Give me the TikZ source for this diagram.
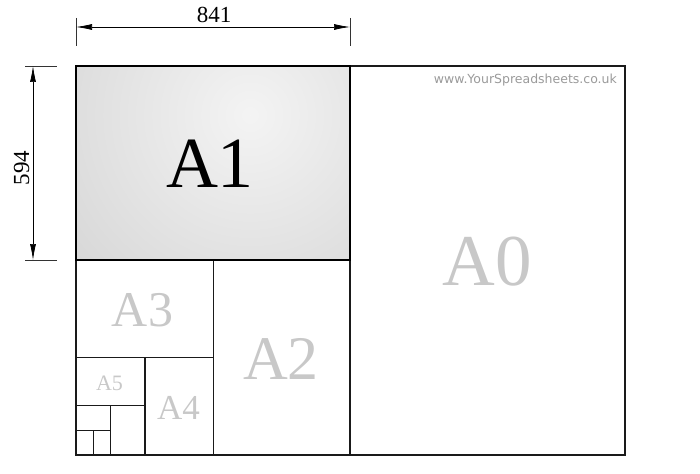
\documentclass[tikz,border=0pt]{standalone}
\usepackage{fontspec}
\setmainfont{Liberation Serif}
\newfontfamily\webfont{DejaVu Sans}
\usetikzlibrary{arrows.meta}
\definecolor{lbl}{HTML}{C8C8C8}
\definecolor{web}{HTML}{9A9A9A}
\definecolor{edge}{HTML}{1A1A1A}
\begin{document}
\begin{tikzpicture}[x=1pt,y=-1pt,
  sheet/.style={draw=edge,line width=1.4pt},
  bigsheet/.style={draw=black,line width=2.4pt},
  dimline/.style={draw=black,line width=0.7pt},
  tick/.style={draw=black!80,line width=0.6pt},
  dimarrow/.style={{Latex[length=16pt,width=6pt]}-{Latex[length=16pt,width=6pt]}},
  sizelbl/.style={text=lbl,inner sep=0pt,anchor=base},
  dimlbl/.style={text=black,inner sep=0pt,font=\fontsize{23}{23}\selectfont}]
\useasboundingbox (0,0) rectangle (700,473);
% corners
\coordinate (TL) at (76,66);
\coordinate (A1BR) at (350,260);
\coordinate (BR) at (625,455);
% shading of A1
\begin{scope}
  \clip (76,66) rectangle (350,260);
  \shade[inner color=gray!9, outer color=gray!34] (250,115) circle (260);
\end{scope}
% sheets
\draw[sheet] (76,66) rectangle (625,455);
\draw[sheet] (76,260) rectangle (350,455);
\draw[sheet] (213.5,260) -- (213.5,455);
\draw[sheet] (76,357.5) -- (213.5,357.5);
\draw[sheet] (145,357.5) -- (145,455);
\draw[sheet] (76,405.5) -- (145,405.5);
\draw[sheet] (110.5,405.5) -- (110.5,455);
\draw[sheet] (76,430.5) -- (110.5,430.5);
\draw[sheet] (93.3,430.5) -- (93.3,455);
\draw[bigsheet] (TL) rectangle (A1BR);
% labels
\node[inner sep=0pt,anchor=base,font=\fontsize{72}{72}\selectfont] (a1) at (210,187) {A1};
\node[sizelbl,font=\fontsize{73}{73}\selectfont] (a0) at (487.5,285) {A0};
\node[sizelbl,font=\fontsize{62}{62}\selectfont] (a2) at (281,379) {A2};
\node[sizelbl,font=\fontsize{50}{50}\selectfont] (a3) at (142.5,326) {A3};
\node[sizelbl,font=\fontsize{35}{35}\selectfont] (a4) at (178.5,419) {A4};
\node[sizelbl,font=\fontsize{22}{22}\selectfont] (a5) at (109.5,390) {A5};
\node[inner sep=0pt,anchor=base east,text=web,font=\webfont\fontsize{12.5}{13}\selectfont] (web) at (617,84) {www.YourSpreadsheets.co.uk};
% horizontal dimension
\coordinate (ht1a) at (76,18); \coordinate (ht1b) at (76,46);
\coordinate (ht2a) at (350,18); \coordinate (ht2b) at (350,46);
\draw[tick] (ht1a) -- (ht1b);
\draw[tick] (ht2a) -- (ht2b);
\coordinate (hl) at (76,27); \coordinate (hr) at (350,27);
\draw[dimline,dimarrow] (hl) -- (hr);
\node[dimlbl,anchor=base] (w) at (214,23) {841};
% vertical dimension
\coordinate (vt1a) at (25,66); \coordinate (vt1b) at (57,66);
\coordinate (vt2a) at (25,260); \coordinate (vt2b) at (57,260);
\draw[tick] (vt1a) -- (vt1b);
\draw[tick] (vt2a) -- (vt2b);
\coordinate (vt) at (33,66); \coordinate (vb) at (33,260);
\draw[dimline,dimarrow] (vt) -- (vb);
\node[dimlbl,rotate=90,anchor=base] (h) at (29,168) {594};
\end{tikzpicture}
\end{document}
